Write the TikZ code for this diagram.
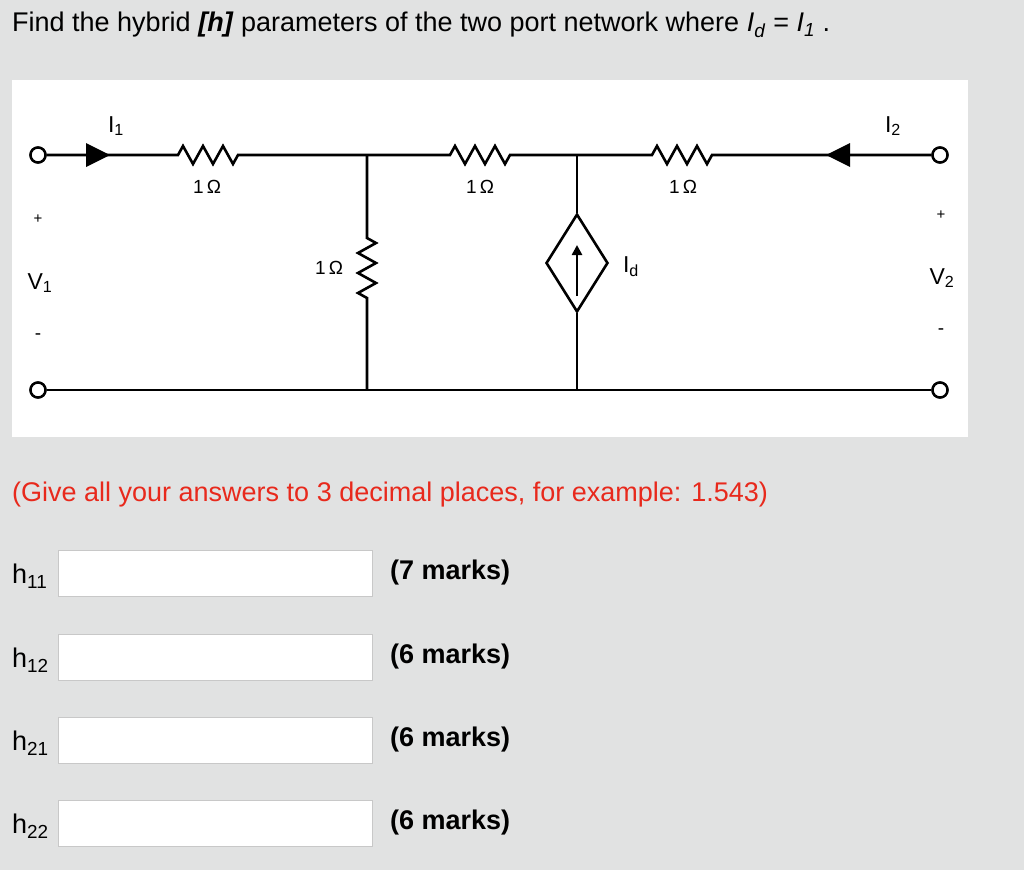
\documentclass[tikz,border=0pt]{standalone}
\usepackage{fontspec}
\setmainfont{Liberation Sans}
\usetikzlibrary{shapes.geometric,arrows.meta}
\definecolor{bg}{HTML}{E1E2E2}
\definecolor{redt}{HTML}{E8291C}
\definecolor{boxb}{HTML}{C8C8C8}
\begin{document}
\begin{tikzpicture}[x=1pt,y=-1pt,
  wire/.style={line width=2.6pt,line join=miter},
  term/.style={circle,draw,line width=2.4pt,fill=white,minimum size=15pt,inner sep=0pt},
  lab/.style={font=\fontsize{19}{19}\selectfont},
  lbig/.style={font=\fontsize{23}{23}\selectfont},
  big/.style={font=\fontsize{27}{30}\selectfont,anchor=west},
  ans/.style={draw=boxb,fill=white,minimum width=314pt,minimum height=46pt,inner sep=0pt,anchor=west},
  mk/.style={font=\fontsize{27}{30}\selectfont\bfseries,anchor=west}]
\fill[bg] (0,0) rectangle (1024,870);
\useasboundingbox (0,0) rectangle (1024,870);
\fill[white] (12,80) rectangle (968,437);
\node[big,inner sep=0pt] (title) at (12,25) {Find the hybrid \textbf{\textit{[h]}} parameters of the two port network where \textit{I}\textsubscript{\textit{d}} = \textit{I}\textsubscript{\textit{1}} .};
\coordinate (a) at (367,155); \coordinate (b) at (577,155);
\coordinate (ga) at (367,390); \coordinate (gb) at (577,390);
\node[term] (t1) at (38,155) {}; \node[term] (t2) at (940,155) {};
\node[term] (t3) at (38,390) {}; \node[term] (t4) at (940,390) {};
\coordinate (r1a) at (178,155); \coordinate (r1b) at (238,155);
\coordinate (r2a) at (450,155); \coordinate (r2b) at (510,155);
\coordinate (r3a) at (652,155); \coordinate (r3b) at (712,155);
\coordinate (r4a) at (367,238); \coordinate (r4b) at (367,298);
\draw[wire] (t1) -- (r1a) -- ++(5,-9) -- ++(10,18) -- ++(10,-18) -- ++(10,18) -- ++(10,-18) -- ++(10,18) -- ++(5,-9) -- (a)
  -- (r2a) -- ++(5,-9) -- ++(10,18) -- ++(10,-18) -- ++(10,18) -- ++(10,-18) -- ++(10,18) -- ++(5,-9) -- (b)
  -- (r3a) -- ++(5,-9) -- ++(10,18) -- ++(10,-18) -- ++(10,18) -- ++(10,-18) -- ++(10,18) -- ++(5,-9) -- (t2);
\draw[wire] (t3) -- (ga) -- (gb) -- (t4);
\draw[wire] (a) -- (r4a) -- ++(9,5) -- ++(-18,10) -- ++(18,10) -- ++(-18,10) -- ++(18,10) -- ++(-18,10) -- ++(9,5) -- (ga);
\node[diamond,draw,line width=2.6pt,fill=white,minimum width=62pt,minimum height=98pt,inner sep=0pt] (src) at (577,263) {};
\draw[wire] (b) -- (src.north); \draw[wire] (src.south) -- (gb);
\draw[line width=2.6pt,-{Triangle[length=10pt,width=10pt]}] (577,296) -- (577,245);
\node[term] at (38,155) {}; \node[term] at (940,155) {};
\node[term] at (38,390) {}; \node[term] at (940,390) {};
\fill (86,143) -- (110,155) -- (86,167) -- cycle;
\fill (850,143) -- (826,155) -- (850,167) -- cycle;
\node[lbig] (i1) at (116,126) {I\textsubscript{1}};
\node[lbig] (i2) at (893,126) {I\textsubscript{2}};
\node[lab] (l1) at (207,187) {1\,Ω};
\node[lab] (l2) at (480,187) {1\,Ω};
\node[lab] (l3) at (683,187) {1\,Ω};
\node[lab] (l4) at (329,268) {1\,Ω};
\node[lbig] (id) at (631,267) {I\textsubscript{d}};
\node[lab,font=\fontsize{15}{15}\selectfont] at (38,219) {+};
\node[lbig] at (40,283) {V\textsubscript{1}};
\node[lab] at (38,337) {-};
\node[lab,font=\fontsize{15}{15}\selectfont] at (941,215) {+};
\node[lbig] at (942,278) {V\textsubscript{2}};
\node[lab] at (941,332) {-};
\node[big,text=redt,inner sep=0pt] (note) at (12,495) {(Give all your answers to 3 decimal places, for example: 1.543)};
\foreach \y/\s/\m in {573/11/7,657/12/6,740/21/6,823/22/6}{
  \node[big,inner sep=0pt] at (12,\y+3) {h\textsubscript{\s}};
  \node[ans] at (58,\y) {};
  \node[mk,inner sep=0pt] at (390,\y) {(\m\ marks)};
}
\end{tikzpicture}
\end{document}
